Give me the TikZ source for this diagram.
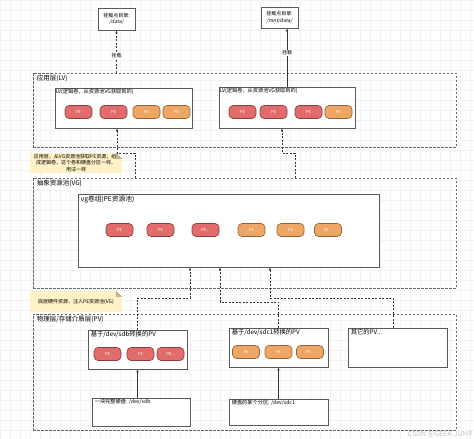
\documentclass[tikz,border=0pt]{standalone}
\usepackage{fontspec}
\setmainfont{Noto Sans CJK SC}
\newfontfamily\slantcjk[FakeSlant=0.2]{Noto Sans CJK SC}
\usetikzlibrary{arrows.meta,positioning}

\definecolor{pered}{HTML}{E26B6B}
\definecolor{peorange}{HTML}{EDA664}
\definecolor{notefill}{HTML}{FFF2C6}

\tikzstyle{layer}=[draw=black!60, dash pattern=on 2.5pt off 1.5pt, line width=0.6pt, inner sep=0pt]
\tikzstyle{box}=[draw=black!65, fill=white, line width=0.8pt, inner sep=0pt]
\tikzstyle{pe}=[fill=#1, draw=#1!60!black, line width=0.6pt, rounded corners=4pt, minimum width=27pt, minimum height=13pt, inner sep=0pt, text=white, font=\fontsize{4}{5}\selectfont]
\tikzstyle{tag}=[anchor=north west, inner sep=1pt, font=\fontsize{5.2}{6}\selectfont]
\tikzstyle{layertag}=[tag, font=\fontsize{6.5}{7.5}\selectfont]
\tikzstyle{note}=[fill=notefill, inner sep=0pt, align=center, font=\fontsize{5}{6.5}\selectfont]
\tikzstyle{link}=[-{Latex[length=3pt,width=2.5pt]}, line width=0.5pt, draw=black!80]
\tikzstyle{dlink}=[link, dash pattern=on 2pt off 1.5pt]
\tikzstyle{mountlbl}=[fill=white, inner sep=1pt, font=\fontsize{5}{6}\selectfont]

\newcommand{\pemore}{PE...}
\newcommand{\notefold}[1]{%
  \fill[white] ([xshift=-6pt]#1.north east) -- (#1.north east) -- ([yshift=-6pt]#1.north east) -- cycle;
  \fill[notefill!75!black] ([xshift=-6pt]#1.north east) -- ([xshift=-6pt,yshift=-6pt]#1.north east) -- ([yshift=-6pt]#1.north east) -- cycle;}

\begin{document}
\begin{tikzpicture}[x=1pt,y=-1pt]
    \useasboundingbox (0,0) rectangle (474,439);
    %Grid
    \foreach \gx in {0,10,...,470} \draw[black!5, line width=0.3pt] (\gx,0) -- (\gx,439);
    \foreach \gy in {0,10,...,430} \draw[black!5, line width=0.3pt] (0,\gy) -- (474,\gy);

    %Mount points
    \node[box, minimum width=37pt, minimum height=22pt, align=center, font=\fontsize{5}{6.5}\selectfont] (mnt1) at (116.5,19) {挂载点目录:\\{\slantcjk /data/}};
    \node[box, minimum width=37pt, minimum height=21pt, align=center, font=\fontsize{5}{6.5}\selectfont] (mnt2) at (279.5,17.5) {挂载点目录:\\{\slantcjk /mnt/data/}};

    %Layers
    \node[layer, minimum width=423pt, minimum height=74pt] (lvlayer) at (244.5,110) {};
    \node[layertag] (lvtag) at ([xshift=3pt,yshift=-1pt]lvlayer.north west) {应用层(LV)};
    \node[layer, minimum width=423pt, minimum height=110pt] (vglayer) at (244.5,233) {};
    \node[layertag] (vgtag) at ([xshift=3pt,yshift=-1pt]vglayer.north west) {抽象资源池(VG)};
    \node[layer, minimum width=423pt, minimum height=116pt] (pvlayer) at (244.5,372) {};
    \node[layertag] (pvtag) at ([xshift=3pt,yshift=-1pt]pvlayer.north west) {物理层/存储介质层(PV)};

    %LV boxes
    \node[box, minimum width=137pt, minimum height=40pt] (lv1) at (123.5,108) {};
    \node[tag] (lv1tag) at (lv1.north west) {LV(逻辑卷，从资源池VG获取到的)};
    \node[box, minimum width=136pt, minimum height=41pt] (lv2) at (287,107.5) {};
    \node[tag] (lv2tag) at (lv2.north west) {LV(逻辑卷，从资源池VG获取到的)};

    %VG box
    \node[box, minimum width=301pt, minimum height=73pt] (vg) at (228.5,230.5) {};
    \node[tag, font=\fontsize{6.7}{7.5}\selectfont] (vgboxtag) at ([xshift=2pt,yshift=-1pt]vg.north west) {vg卷组(PE资源池)};

    %PV boxes
    \node[box, minimum width=99pt, minimum height=39pt] (pv1) at (137.5,349.5) {};
    \node[tag, font=\fontsize{6.3}{7}\selectfont] (pv1tag) at ([xshift=2pt]pv1.north west) {基于/dev/sdb转换的PV};
    \node[box, minimum width=99pt, minimum height=39pt] (pv2) at (278.5,347.5) {};
    \node[tag, font=\fontsize{6.3}{7}\selectfont] (pv2tag) at ([xshift=2pt]pv2.north west) {基于/dev/sdc1转换的PV};
    \node[box, minimum width=99pt, minimum height=39pt] (pv3) at (397.5,347.5) {};
    \node[tag, font=\fontsize{6.3}{7}\selectfont] (pv3tag) at ([xshift=2pt]pv3.north west) {其它的PV...};

    %Disks
    \node[box, minimum width=98pt, minimum height=28pt] (disk1) at (141,412) {};
    \node[tag] (disk1tag) at ([xshift=2pt]disk1.north west) {一块完整硬盘: /dev/sdb};
    \node[box, minimum width=99pt, minimum height=26pt] (disk2) at (278.5,412) {};
    \node[tag] (disk2tag) at ([xshift=2pt]disk2.north west) {硬盘的某个分区: /dev/sdc1};

    %PE blocks
    \foreach \pos/\name/\c/\t in {{(78.5,112)/la1/pered/PE}, {(113.5,112)/la2/pered/PE},
                             {(146.5,112)/la3/peorange/PE}, {(176.5,112)/la4/peorange/PE},
                             {(242.5,112)/lb1/pered/PE}, {(273.5,112)/lb2/pered/PE},
                             {(308.5,112)/lb3/pered/PE}, {(338.5,112)/lb4/peorange/PE},
                             {(119.5,230)/v1/pered/PE}, {(160.5,230)/v2/pered/PE},
                             {(205.5,230)/v3/pered/\pemore}, {(251.5,230)/v4/peorange/PE},
                             {(290.5,230)/v5/peorange/PE}, {(328,230)/v6/peorange/\pemore},
                             {(107.5,354)/pa1/pered/PE}, {(140.5,354)/pa2/pered/PE},
                             {(170.5,354)/pa3/pered/\pemore},
                             {(246,352)/pb1/peorange/PE}, {(278.5,352)/pb2/peorange/PE},
                             {(310,352)/pb3/peorange/\pemore}}
    \node[pe=\c] (\name) at \pos {\t};

    %Notes
    \node[note, minimum width=92pt, minimum height=20pt] (note1) at (76,163) {应用层，从VG资源池获取PE资源，组-\\成逻辑卷，这个卷和硬盘分区一样，\\用法一样};
    \notefold{note1}
    \node[note, minimum width=92pt, minimum height=21pt] (note2) at (76,301.5) {底层硬件资源，注入PE资源池(VG)};
    \notefold{note2}

    %Mount links
    \draw[dlink] (lvlayer.north -| mnt1.south) -- node[mountlbl, pos=0.4] {挂载} (mnt1.south);
    \draw[link] (lv2.north) -- node[mountlbl, pos=0.58] {挂载} (lv2.north |- mnt2.south);

    %VG to LV
    \draw[dlink] (vglayer.north -| 135,0) -- (135,153) -| (lv1.south -| 117,0);
    \draw[dlink] (vglayer.north -| 295,0) -- (295,153) -| (lv2.south -| 282,0);

    %PV to VG
    \draw[dlink] (pv1.north) |- (190,298) -- (vg.south -| 190,0);
    \draw[dlink] (pv2.north) |- (220,302) -- (vg.south -| 220,0);
    \draw[dlink] (pv3.north -| 393,0) |- (270,298) -- (vg.south -| 270,0);

    %Disk to PV
    \draw[link] (pv1.south |- disk1.north) -- (pv1.south);
    \draw[link] (disk2.north) -- (pv2.south);

    %Watermark
    \node[anchor=south east, inner sep=1pt, text=black!22, font=\fontsize{7}{8}\selectfont] (mark) at (474,439) {CSDN @GEEK-JUMP};
\end{tikzpicture}
\end{document}
